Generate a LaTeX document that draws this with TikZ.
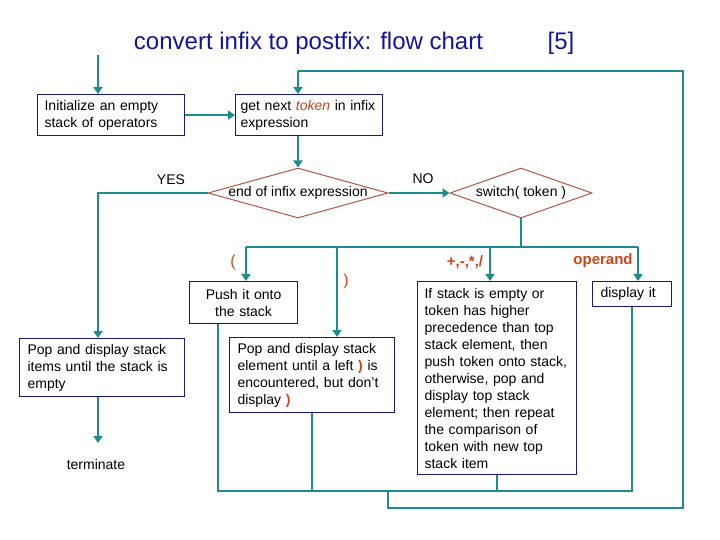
\documentclass[tikz,border=0pt]{standalone}
\usepackage{fontspec}
\setmainfont{Liberation Sans}
\usetikzlibrary{arrows.meta,shapes.geometric}
\definecolor{teal1}{RGB}{30,140,140}
\definecolor{navy1}{RGB}{25,25,115}
\definecolor{dbrd}{RGB}{180,85,65}
\definecolor{ired}{RGB}{205,70,25}
\definecolor{tblue}{RGB}{20,20,160}
\begin{document}
\begin{tikzpicture}[x=1pt,y=-1pt,
 box/.style={draw=navy1,line width=1.2pt,anchor=north west,inner xsep=7pt,inner ysep=0pt,align=left,font=\fontsize{14}{17}\selectfont},
 dia/.style={draw=dbrd,line width=1pt,shape=diamond,inner sep=0pt,font=\fontsize{14}{17}\selectfont},
 arr/.style={draw=teal1,line width=2.2pt,-{Triangle[width=9pt,length=7pt]}},
 ln/.style={draw=teal1,line width=1.3pt},
 lbl/.style={font=\fontsize{14}{17}\selectfont,inner sep=0pt},
 rlbl/.style={font=\fontsize{15}{17}\selectfont\bfseries,text=ired,inner sep=0pt},
 plbl/.style={font=\fontsize{16}{17}\selectfont,text=ired,inner sep=0pt},
 ttl/.style={font=\fontsize{24}{26}\selectfont,text=tblue,inner sep=0pt}
]
\useasboundingbox[fill=white] (0,0) rectangle (720,540);

% title
\node[ttl] (title) at (308.5,43) {convert infix to postfix: flow chart};
\node[ttl] (ref) at (561,43) {[5]};

% boxes
\node[box,minimum width=147pt,minimum height=41pt,text width=133pt] (init) at (37,94) {Initialize an empty\\stack of operators};
\node[box,inner xsep=5pt,minimum width=147pt,minimum height=41pt,text width=137pt] (getnext) at (235,94) {\mbox{get next \textcolor{ired}{\textit{token}} in infix}\\expression};
\node[dia,minimum width=180pt,minimum height=50pt] (d1) at (298,193) {\makebox[0pt]{end of infix expression}};
\node[dia,minimum width=142pt,minimum height=50pt] (d2) at (521,193) {\makebox[0pt]{switch( token )}};
\node[box,inner xsep=8pt,minimum width=165pt,minimum height=58pt,text width=149pt] (popl) at (19,338) {Pop and display stack\\items until the stack is\\empty};
\node[box,minimum width=108pt,minimum height=42pt,text width=94pt,align=center] (push) at (189,281) {Push it onto\\the stack};
\node[box,inner xsep=8pt,minimum width=165pt,minimum height=75pt,text width=149pt] (paren) at (229,337) {Pop and display stack\\element until a left \textcolor{ired}{\textbf{)}} is\\encountered, but don't\\display \textcolor{ired}{\textbf{)}}};
\node[box,minimum width=159pt,minimum height=193pt,text width=145pt] (op) at (417,281) {If stack is empty or\\token has higher\\precedence than top\\stack element, then\\push token onto stack,\\otherwise, pop and\\display top stack\\element; then repeat\\the comparison of\\token with new top\\stack item};
\node[box,inner xsep=8pt,minimum width=79pt,minimum height=25pt,text width=63pt] (disp) at (592,281) {display it};
\node[lbl] (term) at (96,464) {terminate};

% labels
\node[lbl] (yes) at (171,180) {YES};
\node[lbl] (no) at (423,179) {NO};
\node[plbl] (lp) at (233,262) {(};
\node[plbl] (rp) at (346,281) {)};
\node[rlbl] (ops) at (465,262) {+,-,*,/};
\node[rlbl] (opd) at (603,261) {operand};

% coordinates
\coordinate (s0) at (98,55);
\coordinate (t0) at (98,443);
\coordinate (bl) at (246,247);
\coordinate (bp) at (337,247);
\coordinate (bo) at (490,247);
\coordinate (br) at (638,247);
\coordinate (c1) at (218,491);
\coordinate (c2) at (632,491);
\coordinate (c3) at (388,491);
\coordinate (r1) at (388,508);
\coordinate (r2) at (683,508);
\coordinate (r3) at (683,71);
\coordinate (r4) at (298,71);

% connectors
\draw[arr] (s0) -- (s0 |- init.north);
\draw[arr] (init.east) -- (init.east -| getnext.west);
\draw[arr] (getnext.south -| d1.north) -- (d1.north);
\draw[arr] (d1.west) -- (d1.west -| s0) -- (s0 |- popl.north);
\draw[arr] (d1.east) -- (d2.west);
\draw[arr] (s0 |- popl.south) -- (t0);

\draw[ln] (d2.south) -- (d2.south |- bl);
\draw[ln] (bl) -- (br);
\draw[arr] (bl) -- (bl |- push.north);
\draw[arr] (bp) -- (bp |- paren.north);
\draw[arr] (bo) -- (bo |- op.north);
\draw[arr] (br) -- (br |- disp.north);

\draw[ln] (push.south -| c1) -- (c1) -- (c2) -- (disp.south -| c2);
\draw[ln] (paren.south) -- (paren.south |- c1);
\draw[ln] (op.south) -- (op.south |- c1);
\draw[ln] (c3) -- (r1) -- (r2) -- (r3) -- (r4);
\draw[arr] (r4) -- (r4 |- getnext.north);
\end{tikzpicture}
\end{document}
